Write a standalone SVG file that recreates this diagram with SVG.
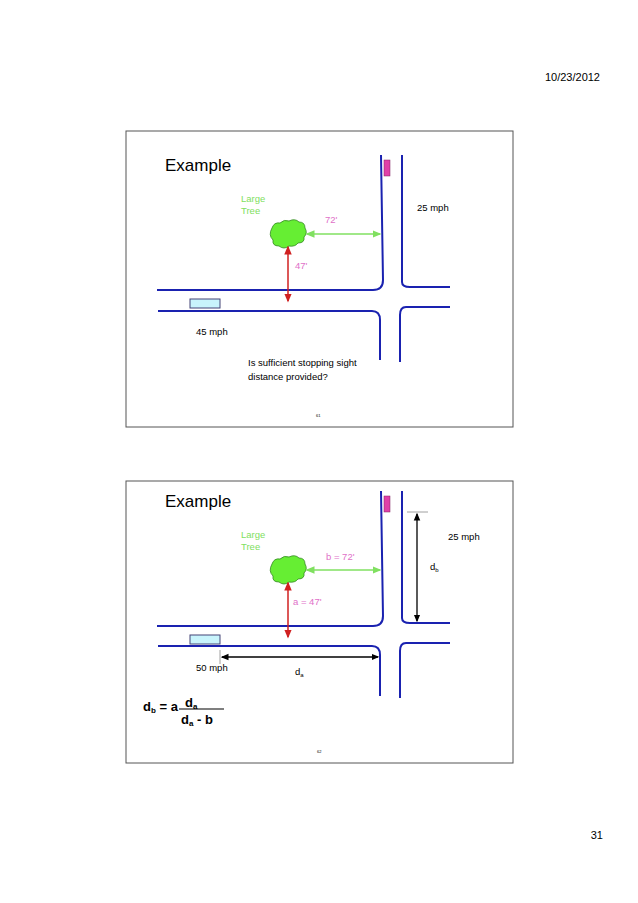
<svg xmlns="http://www.w3.org/2000/svg" width="638" height="903" viewBox="0 0 638 903">
<style>
text{font-family:"Liberation Sans",Arial,sans-serif;fill:#000}
.road{fill:none;stroke:#1a22b0;stroke-width:2}
.slide{fill:#fff;stroke:#555;stroke-width:1}
.pk{fill:#e040a8}
.mg{fill:#e070c8;font-size:9.5px}
.gr{fill:#80e060;font-size:9.5px}
.sm{font-size:9.5px}
</style>
<defs>
<marker id="ag" markerWidth="6" markerHeight="6" refX="5" refY="3" orient="auto-start-reverse"><path d="M0,0.5L6,3L0,5.5z" fill="#80e060"/></marker>
<marker id="ar" markerWidth="6" markerHeight="6" refX="5" refY="3" orient="auto-start-reverse"><path d="M0,0.5L6,3L0,5.5z" fill="#d02020"/></marker>
<marker id="ak" markerWidth="6" markerHeight="6" refX="5" refY="3" orient="auto-start-reverse"><path d="M0,0.5L6,3L0,5.5z" fill="#000"/></marker>
<g id="tree"><path d="M272,228 q2,-6 8,-5 q4,-4 9,-2 q6,-3 10,1 q6,0 6,6 q3,5 -1,9 q1,6 -6,6 q-3,4 -9,3 q-5,4 -10,0 q-7,0 -6,-6 q-5,-5 -1,-12z" fill="#66ee33" stroke="#338822" stroke-width="0.8"/></g>
</defs>
<text x="600" y="81" font-size="11" text-anchor="end">10/23/2012</text>
<text x="603" y="839" font-size="11" text-anchor="end">31</text>

<g id="slide1">
<rect class="slide" x="126" y="131" width="387" height="296"/>
<text x="165" y="171" font-size="17">Example</text>
<g id="roads1">
<path class="road" d="M381,155 L383,280 Q383,290 373,290 L157,290"/>
<path class="road" d="M402,155 L402,282 Q402,287 410,287 L450,287"/>
<path class="road" d="M158,311 L372,311 Q380,311 380,320 L380,360"/>
<path class="road" d="M450,307 L406,307 Q400,307 400,315 L400,362"/>
</g>
<rect id="car1" x="190" y="299" width="30" height="9" fill="#c8f4fc" stroke="#447"/>
<rect id="sign1" class="pk" x="384" y="160" width="6" height="16" stroke="#802060" stroke-width="0.5"/>
<use id="tree1" href="#tree"/>
<g id="dims1">
<line x1="307" y1="234" x2="380" y2="234" stroke="#80e060" stroke-width="1.5" marker-start="url(#ag)" marker-end="url(#ag)"/>
<line x1="288" y1="247" x2="288" y2="301" stroke="#d02020" stroke-width="1.5" marker-start="url(#ar)" marker-end="url(#ar)"/>
</g>
<text class="gr" x="241" y="202">Large</text>
<text class="gr" x="241" y="214">Tree</text>
<text class="mg" x="325" y="223">72'</text>
<text class="mg" x="295" y="269">47'</text>
<text class="sm" x="417" y="211">25 mph</text>
<text class="sm" x="196" y="335">45 mph</text>
<text class="sm" x="248" y="366">Is sufficient stopping sight</text>
<text class="sm" x="248" y="380">distance provided?</text>
<text x="316" y="417" font-size="4" fill="#999">61</text>
</g>

<g id="slide2">
<rect class="slide" x="126" y="481" width="387" height="282"/>
<text x="165" y="507" font-size="17">Example</text>
<g id="roads2">
<path class="road" d="M381,491 L383,616 Q383,626 373,626 L157,626"/>
<path class="road" d="M402,491 L402,618 Q402,623 410,623 L450,623"/>
<path class="road" d="M158,646 L372,646 Q380,646 380,655 L380,696"/>
<path class="road" d="M450,643 L406,643 Q400,643 400,651 L400,698"/>
</g>
<rect id="car2" x="190" y="635" width="30" height="9" fill="#c8f4fc" stroke="#447"/>
<rect id="sign2" class="pk" x="384" y="496" width="6" height="16" stroke="#802060" stroke-width="0.5"/>
<use id="tree2" href="#tree" y="336"/>
<g id="dims2">
<line x1="307" y1="570" x2="380" y2="570" stroke="#80e060" stroke-width="1.5" marker-start="url(#ag)" marker-end="url(#ag)"/>
<line x1="288" y1="583" x2="288" y2="637" stroke="#d02020" stroke-width="1.5" marker-start="url(#ar)" marker-end="url(#ar)"/>
<line x1="407" y1="512" x2="428" y2="512" stroke="#888" stroke-width="0.8"/>
<line x1="417" y1="514" x2="417" y2="621" stroke="#000" stroke-width="1.3" marker-start="url(#ak)" marker-end="url(#ak)"/>
<line x1="220" y1="650" x2="220" y2="664" stroke="#888" stroke-width="0.8"/>
<line x1="222" y1="657" x2="378" y2="657" stroke="#000" stroke-width="1.3" marker-start="url(#ak)" marker-end="url(#ak)"/>
</g>
<text class="gr" x="241" y="538">Large</text>
<text class="gr" x="241" y="550">Tree</text>
<text class="mg" x="326" y="560">b = 72'</text>
<text class="mg" x="293" y="605">a = 47'</text>
<text class="sm" x="448" y="540">25 mph</text>
<text class="sm" x="430" y="570">d<tspan font-size="6" dy="2">b</tspan></text>
<text class="sm" x="196" y="671">50 mph</text>
<text class="sm" x="295" y="675">d<tspan font-size="6" dy="2">a</tspan></text>
<g id="formula" font-weight="bold">
<text x="143" y="711" font-size="13">d<tspan font-size="8" dy="2">b</tspan><tspan dy="-2"> = a</tspan></text>
<text x="185" y="707" font-size="13">d<tspan font-size="8" dy="2">a</tspan></text>
<line x1="179" y1="709" x2="224" y2="709" stroke="#000" stroke-width="1.2"/>
<text x="181" y="724" font-size="13">d<tspan font-size="8" dy="2">a</tspan><tspan dy="-2"> - b</tspan></text>
</g>
<text x="317" y="753" font-size="4" fill="#999">62</text>
</g>
</svg>
